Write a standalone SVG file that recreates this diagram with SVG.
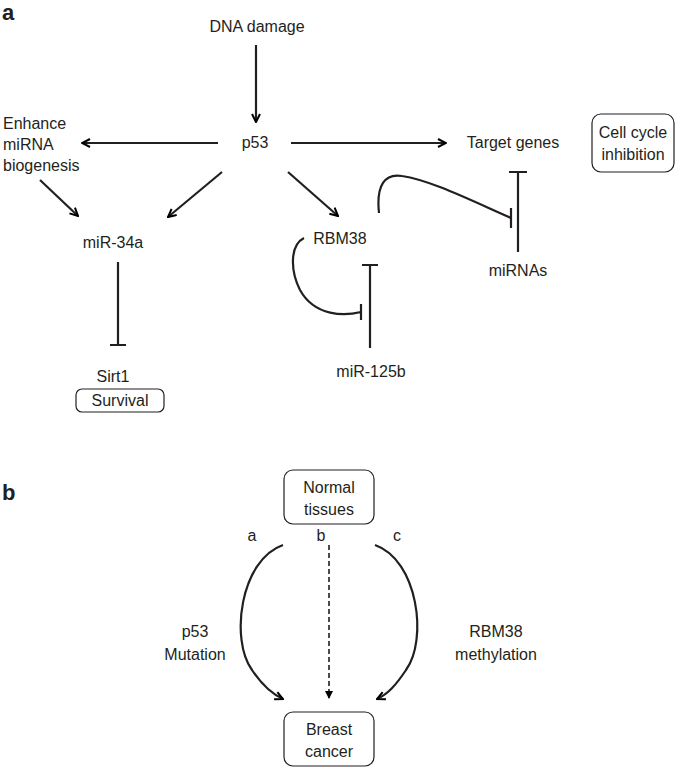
<svg xmlns="http://www.w3.org/2000/svg" width="685" height="769" viewBox="0 0 685 769">
<defs>
<marker id="ah" markerWidth="10" markerHeight="10" refX="9" refY="5" orient="auto" markerUnits="userSpaceOnUse"><path d="M1,1 L9,5 L1,9" fill="none" stroke="#000" stroke-width="2"/></marker>
<marker id="ahs" markerWidth="8" markerHeight="8" refX="7" refY="4" orient="auto" markerUnits="userSpaceOnUse"><path d="M0,0 L8,4 L0,8 Z" fill="#000"/></marker>
</defs>
<style>
text{font-family:"Liberation Sans",Arial,sans-serif;font-size:16px;fill:#231f20}
.c{text-anchor:middle}
.t{font-weight:bold;font-size:22px}
.e{fill:none;stroke:#231f20;stroke-width:2.2}
.box{fill:#fff;stroke:#231f20;stroke-width:1.2}
</style>
<rect width="685" height="769" fill="#fff"/>
<text class="t" x="2" y="20">a</text>
<text class="t" x="2" y="500">b</text>
<g id="connectors">
<line class="e" x1="256" y1="45" x2="256" y2="122" marker-end="url(#ah)"/>
<line class="e" x1="218" y1="143" x2="82" y2="143" marker-end="url(#ah)"/>
<line class="e" x1="291" y1="143" x2="446" y2="143" marker-end="url(#ah)"/>
<line class="e" x1="222" y1="172" x2="168" y2="217" marker-end="url(#ah)"/>
<line class="e" x1="40" y1="180" x2="78" y2="216" marker-end="url(#ah)"/>
<line class="e" x1="288" y1="172" x2="338" y2="216" marker-end="url(#ah)"/>
<path class="e" d="M118,262 V345 M110,345 H126"/>
<path class="e" d="M379,213 C376,185 385,173 402,176 C430,180 470,200 511,218 M511,208 V228"/>
<path class="e" d="M518,252 V172 M509,172 H527"/>
<path class="e" d="M304,238 C290,245 290,270 300,290 C315,317 345,316 361,312 M361,304 V320"/>
<path class="e" d="M370,348 V265 M362,265 H378"/>
<path class="e" d="M283,545 C240,560 230,640 252,670 C262,685 272,694 283,699" marker-end="url(#ah)"/>
<path class="e" d="M375,545 C418,560 428,640 406,670 C396,685 388,694 377,699" marker-end="url(#ah)"/>
<line x1="329" y1="545" x2="329" y2="698" stroke="#231f20" stroke-width="1.6" stroke-dasharray="5,3" marker-end="url(#ahs)"/>
</g>
<g id="dna"><text class="c" x="257" y="32">DNA damage</text></g>
<g id="p53"><text class="c" x="255" y="148">p53</text></g>
<g id="enhance"><text x="3" y="129">Enhance</text><text x="3" y="150">miRNA</text><text x="3" y="171">biogenesis</text></g>
<g id="target"><text class="c" x="513" y="148">Target genes</text></g>
<g id="cellcycle"><rect class="box" x="592" y="114" width="82" height="58" rx="9"/><text class="c" x="633" y="138">Cell cycle</text><text class="c" x="633" y="160">inhibition</text></g>
<g id="mir34a"><text class="c" x="113" y="248">miR-34a</text></g>
<g id="sirt1"><text class="c" x="113" y="382">Sirt1</text></g>
<g id="survival"><rect class="box" x="76" y="389" width="88" height="23" rx="6"/><text class="c" x="120" y="406">Survival</text></g>
<g id="rbm38"><text class="c" x="340" y="244">RBM38</text></g>
<g id="mirnas"><text class="c" x="518" y="276">miRNAs</text></g>
<g id="mir125b"><text class="c" x="371" y="377">miR-125b</text></g>
<g id="normal"><rect class="box" x="284" y="470" width="90" height="54" rx="9"/><text class="c" x="329" y="493">Normal</text><text class="c" x="329" y="515">tissues</text></g>
<g id="labels"><text class="c" x="252" y="541">a</text><text class="c" x="321" y="541">b</text><text class="c" x="397" y="541">c</text>
<text class="c" x="195" y="637">p53</text><text class="c" x="195" y="660">Mutation</text>
<text class="c" x="496" y="637">RBM38</text><text class="c" x="496" y="660">methylation</text></g>
<g id="breast"><rect class="box" x="284" y="712" width="90" height="54" rx="9"/><text class="c" x="329" y="735">Breast</text><text class="c" x="329" y="757">cancer</text></g>
</svg>
